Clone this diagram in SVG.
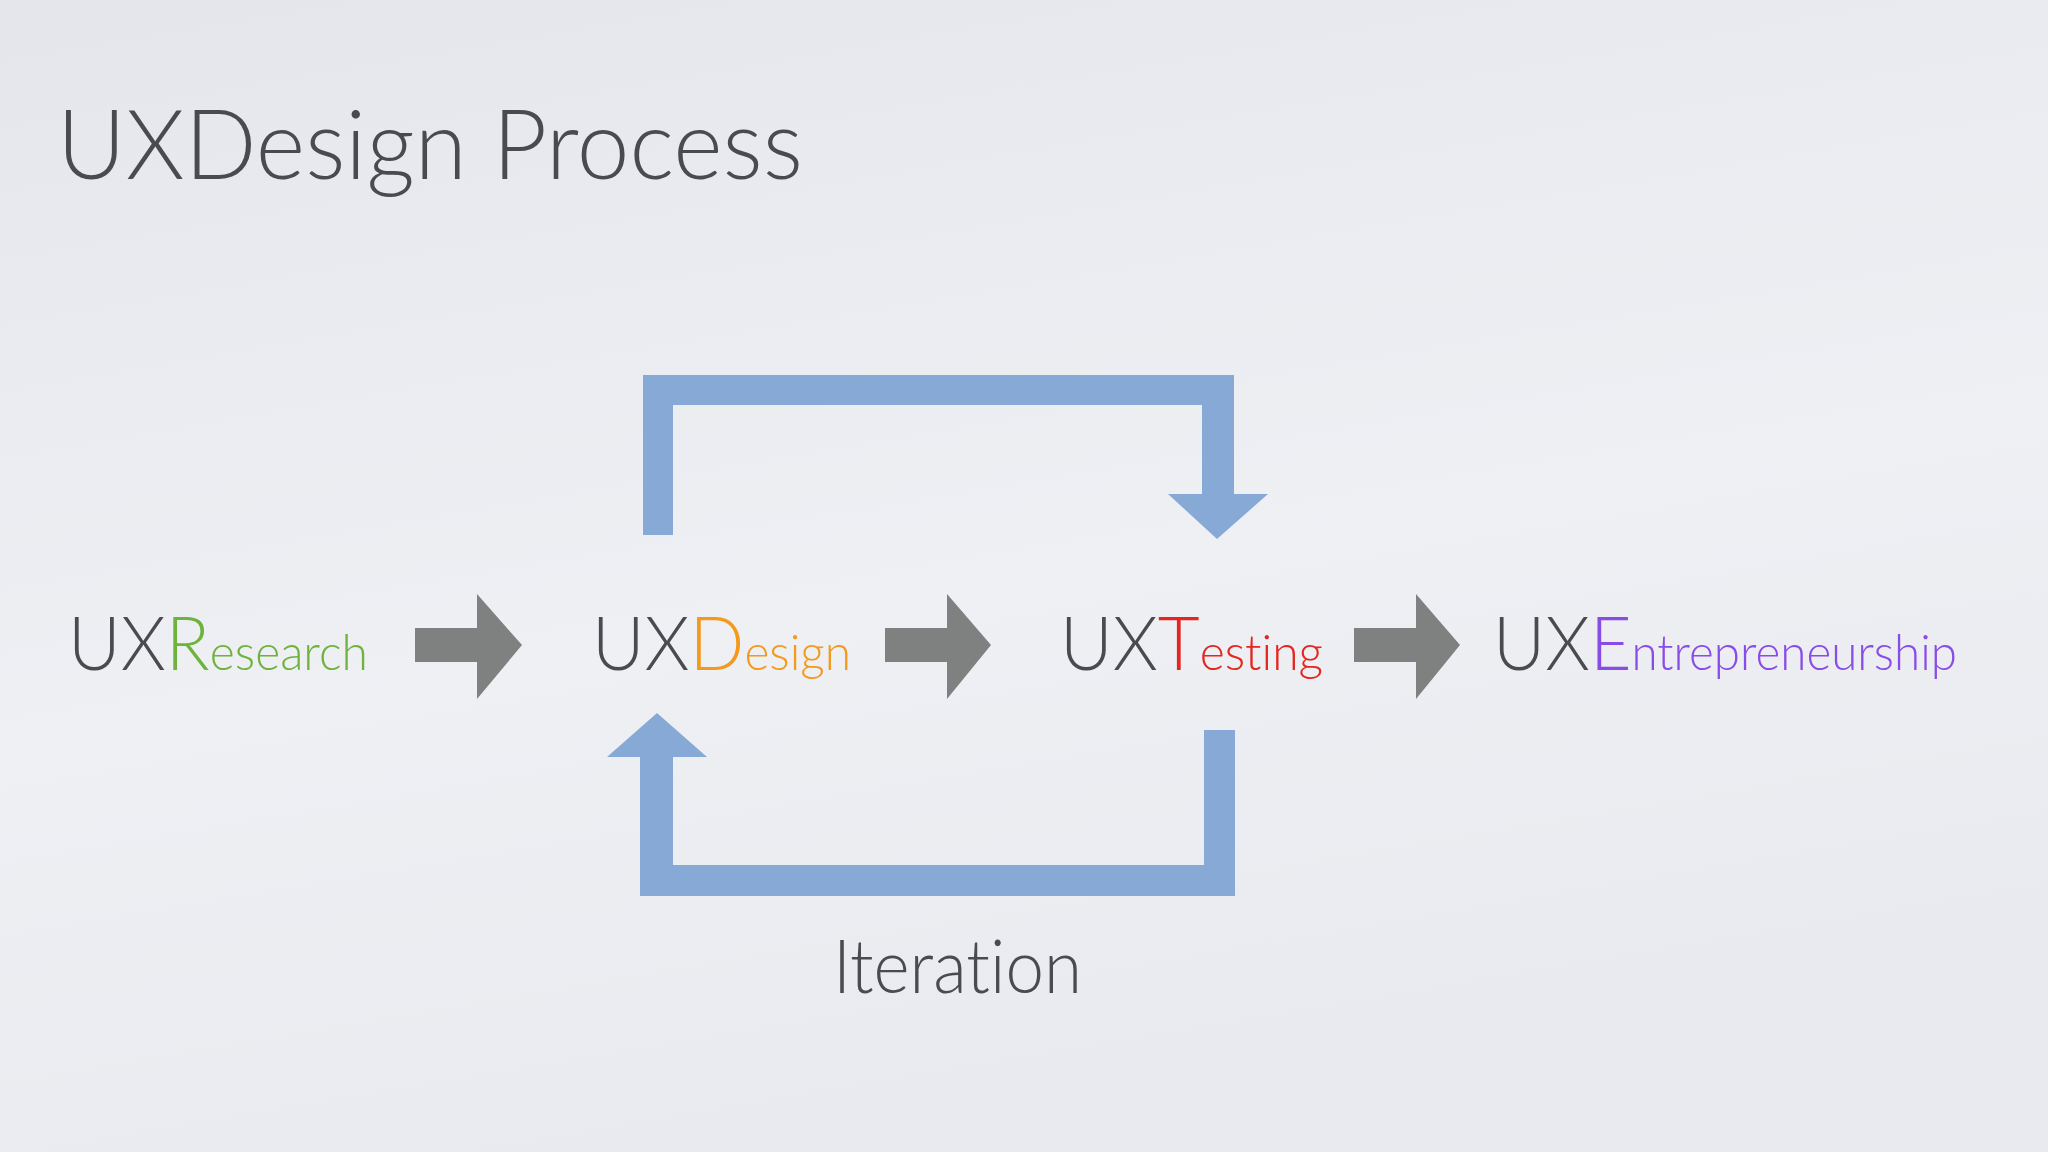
<svg xmlns="http://www.w3.org/2000/svg" width="2048" height="1152" viewBox="0 0 2048 1152">
<defs>
<linearGradient id="bg" x1="0" y1="0" x2="0.3" y2="1">
<stop offset="0" stop-color="#e4e6ec"/><stop offset="0.6" stop-color="#eef0f4"/><stop offset="1" stop-color="#e9eaef"/>
</linearGradient>
<style>
.t{font-family:"Lato","Open Sans",sans-serif;font-weight:300;fill:#4a4a4f;font-variant-ligatures:none}
.b{font-size:74px}.s{font-size:49px}
.ga{fill:#7e8180}.bl{fill:#87a9d6}
</style>
</defs>
<rect width="2048" height="1152" fill="url(#bg)"/>
<text class="t" x="57" y="179" font-size="97" textLength="746" lengthAdjust="spacingAndGlyphs">UXDesign Process</text>
<g id="research"><text class="t" x="68" y="670" textLength="300" lengthAdjust="spacingAndGlyphs"><tspan class="b">UX</tspan><tspan class="b" fill="#6fb33f">R</tspan><tspan class="s" fill="#6fb33f">esearch</tspan></text></g>
<g id="design"><text class="t" x="592" y="670" textLength="259" lengthAdjust="spacingAndGlyphs"><tspan class="b">UX</tspan><tspan class="b" fill="#f39a1e">D</tspan><tspan class="s" fill="#f39a1e">esign</tspan></text></g>
<g id="testing"><text class="t" x="1060" y="670" textLength="263" lengthAdjust="spacingAndGlyphs"><tspan class="b">UX</tspan><tspan class="b" fill="#e5251f">T</tspan><tspan class="s" fill="#e5251f">esting</tspan></text></g>
<g id="entre"><text class="t" x="1493" y="670" textLength="464" lengthAdjust="spacingAndGlyphs"><tspan class="b">UX</tspan><tspan class="b" fill="#8a4ce6">E</tspan><tspan class="s" fill="#8a4ce6">ntrepreneurship</tspan></text></g>
<g id="connectors">
<polygon class="ga" points="415,628 477,628 477,594 522,645 477,699 477,662 415,662"/>
<polygon class="ga" points="885,628 947,628 947,594 991,645 947,699 947,662 885,662"/>
<polygon class="ga" points="1354,628 1416,628 1416,594 1460,645 1416,699 1416,662 1354,662"/>
<polygon class="bl" points="643,535 673,535 673,405 1202,405 1202,494 1168,494 1217,539 1268,494 1234,494 1234,375 643,375"/>
<polygon class="bl" points="1204,730 1235,730 1235,896 640,896 640,757 607,757 657,713 707,757 673,757 673,865 1204,865"/>
</g>
<g id="iteration"><text class="t" x="833" y="993" font-size="74" textLength="249" lengthAdjust="spacingAndGlyphs">Iteration</text></g>
</svg>
